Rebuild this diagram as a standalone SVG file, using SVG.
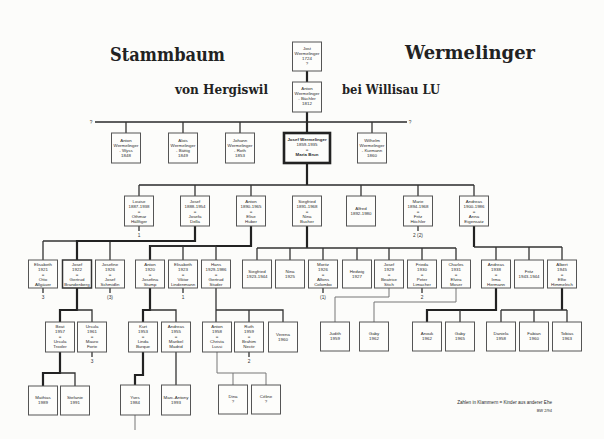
<svg xmlns="http://www.w3.org/2000/svg" width="604" height="439" viewBox="0 0 604 439">
<style>
.bg{fill:#fcfcfa}
.b{fill:#fdfdfb;stroke:#555;stroke-width:1}
.bk{fill:#fdfdfb;stroke:#222;stroke-width:2.6}
.bm{fill:#fdfdfb;stroke:#333;stroke-width:1.5}
.t{font-family:"Liberation Sans",Arial,sans-serif;font-size:4.4px;fill:#2a2a2a;text-anchor:middle}
.tb{font-weight:bold}
.n{font-family:"Liberation Sans",Arial,sans-serif;font-size:4.8px;fill:#333;text-anchor:middle}
.h{font-family:"DejaVu Serif",serif;font-weight:bold;fill:#222}
.c{fill:none;stroke:#333;stroke-width:1.3}
.m{fill:none;stroke:#2a2a2a;stroke-width:1.7}
.k{fill:none;stroke:#222;stroke-width:2.2}
.g{fill:none;stroke:#777;stroke-width:1}
</style>
<rect class="bg" x="0" y="0" width="604" height="439"/>
<g id="titles">
<text class="h" x="110" y="61" font-size="19" textLength="115" lengthAdjust="spacingAndGlyphs">Stammbaum</text>
<text class="h" x="405" y="59" font-size="19" textLength="130" lengthAdjust="spacingAndGlyphs">Wermelinger</text>
<text class="h" x="175" y="94" font-size="12" textLength="93" lengthAdjust="spacingAndGlyphs">von Hergiswil</text>
<text class="h" x="342" y="94" font-size="12" textLength="98" lengthAdjust="spacingAndGlyphs">bei Willisau LU</text>
</g>
<g id="connectors">
<path class="k" d="M307 71V82M307 112V133M307 163V185"/>
<path class="m" d="M95 122H407"/>
<path class="c" d="M126 122V133M183 122V133M240 122V133M372 122V133"/>
<path class="m" d="M139 185H474"/>
<path class="c" d="M139 185V196M195 185V196M251 185V196M361 185V196M418 185V196M474 185V196"/>
<path class="c" d="M139 226V231M418 226V231"/>
<path class="c" d="M43 241H77M43 241V260M110 241H77M110 241V260"/>
<path class="k" d="M195 226V241H77V260"/>
<path class="k" d="M251 226V246H150V260"/>
<path class="c" d="M150 246H216M183 246V260M216 246V260"/>
<path class="k" d="M307 226V248"/>
<path class="c" d="M257 248H456M257 248V260M290 248V260M323 248V260M357 248V260M389 248V260M422 248V260M456 248V260"/>
<path class="k" d="M474 226V247"/>
<path class="c" d="M474 247H562M496 247V260M529 247V260M562 247V260"/>
<path class="c" d="M43 288V293M110 288V293M183 288V293M323 288V293M422 288V293"/>
<path class="k" d="M77 288V310H60V322"/>
<path class="c" d="M77 310H92V322"/>
<path class="k" d="M150 288V310H143V322"/>
<path class="c" d="M150 310H176V322"/>
<path class="c" d="M216 288V310H283V322M216 310V322M249 310V322"/>
<path class="g" d="M389 288V297H335V322"/>
<path class="g" d="M456 288V302H374V322"/>
<path class="k" d="M496 288V310H427V322"/>
<path class="c" d="M460 310V322"/>
<path class="k" d="M562 288V310"/>
<path class="c" d="M501 310H567M501 310V322M534 310V322M567 310V322"/>
<path class="c" d="M92 352V357M249 352V357"/>
<path class="k" d="M60 352V373H43V386"/>
<path class="c" d="M60 373H75V386"/>
<path class="k" d="M143 352V375H135V385"/>
<path class="c" d="M176 352V385"/>
<path class="g" d="M217 352V373H266V385M233 373V385"/>
<path class="g" d="M135 415V430"/>
</g>
<g id="marks">
<text class="n" x="91" y="123.5">?</text>
<text class="n" x="410" y="123.5">?</text>
<text class="n" x="139" y="237">1</text>
<text class="n" x="418" y="237">2 (2)</text>
<text class="n" x="43" y="299">3</text>
<text class="n" x="110" y="299">(3)</text>
<text class="n" x="183" y="299">1</text>
<text class="n" x="323" y="299">(1)</text>
<text class="n" x="422" y="299">2</text>
<text class="n" x="92" y="363">3</text>
<text class="n" x="249" y="363">2</text>
<text class="t" x="552" y="403.5" style="text-anchor:end;font-size:4.6px">Zahlen in Klammern = Kinder aus anderer Ehe</text>
<text class="t" x="552" y="412" style="text-anchor:end;font-size:4px">BW 2/94</text>
</g>
<g id="n-jost"><rect class="b" x="292.5" y="42" width="29" height="29"/><text class="t"><tspan x="307" y="50">Jost</tspan><tspan x="307" y="55">Wermelinger</tspan><tspan x="307" y="60">1724</tspan><tspan x="307" y="65">?</tspan></text></g>
<g id="n-anton1812"><rect class="b" x="292.5" y="82" width="29" height="30"/><text class="t"><tspan x="307" y="90">Anton</tspan><tspan x="307" y="95">Wermelinger</tspan><tspan x="307" y="100">- Bächler</tspan><tspan x="307" y="105">1812</tspan></text></g>
<g id="n-anton1848"><rect class="b" x="111.5" y="133" width="29" height="30"/><text class="t"><tspan x="126" y="141.5">Anton</tspan><tspan x="126" y="146.5">Wermelinger</tspan><tspan x="126" y="151.5">- Wyss</tspan><tspan x="126" y="156.5">1848</tspan></text></g>
<g id="n-alois"><rect class="b" x="168.5" y="133" width="29" height="30"/><text class="t"><tspan x="183" y="141.5">Alois</tspan><tspan x="183" y="146.5">Wermelinger</tspan><tspan x="183" y="151.5">- Bättig</tspan><tspan x="183" y="156.5">1849</tspan></text></g>
<g id="n-johann"><rect class="b" x="225.5" y="133" width="29" height="30"/><text class="t"><tspan x="240" y="141.5">Johann</tspan><tspan x="240" y="146.5">Wermelinger</tspan><tspan x="240" y="151.5">- Roth</tspan><tspan x="240" y="156.5">1853</tspan></text></g>
<g id="n-josef1859"><rect class="bk" x="284" y="133" width="46" height="30"/><text class="t"><tspan x="307" y="141" class="tb">Josef Wermelinger</tspan><tspan x="307" y="146">1859-1935</tspan><tspan x="307" y="151">=</tspan><tspan x="307" y="156" class="tb">Maria Brun</tspan></text></g>
<g id="n-wilhelm"><rect class="b" x="357.5" y="133" width="29" height="30"/><text class="t"><tspan x="372" y="141.5">Wilhelm</tspan><tspan x="372" y="146.5">Wermelinger</tspan><tspan x="372" y="151.5">- Kurmann</tspan><tspan x="372" y="156.5">1860</tspan></text></g>
<g id="n-louise"><rect class="b" x="124.5" y="196" width="29" height="30"/><text class="t"><tspan x="139" y="202.5">Louise</tspan><tspan x="139" y="207.5">1887-1938</tspan><tspan x="139" y="212.5">=</tspan><tspan x="139" y="217.5">Othmar</tspan><tspan x="139" y="222.5">Hällfiger</tspan></text></g>
<g id="n-josef1888"><rect class="b" x="180.5" y="196" width="29" height="30"/><text class="t"><tspan x="195" y="202.5">Josef</tspan><tspan x="195" y="207.5">1888-1954</tspan><tspan x="195" y="212.5">=</tspan><tspan x="195" y="217.5">Josefa</tspan><tspan x="195" y="222.5">Della</tspan></text></g>
<g id="n-anton1890"><rect class="b" x="236.5" y="196" width="29" height="30"/><text class="t"><tspan x="251" y="202.5">Anton</tspan><tspan x="251" y="207.5">1890-1965</tspan><tspan x="251" y="212.5">=</tspan><tspan x="251" y="217.5">Elise</tspan><tspan x="251" y="222.5">Huber</tspan></text></g>
<g id="n-siegfried1891"><rect class="b" x="292.5" y="196" width="29" height="30"/><text class="t"><tspan x="307" y="202.5">Siegfried</tspan><tspan x="307" y="207.5">1891-1968</tspan><tspan x="307" y="212.5">=</tspan><tspan x="307" y="217.5">Nina</tspan><tspan x="307" y="222.5">Bucher</tspan></text></g>
<g id="n-alfred"><rect class="b" x="346.5" y="196" width="29" height="30"/><text class="t"><tspan x="361" y="209.5">Alfred</tspan><tspan x="361" y="214.5">1892-1980</tspan></text></g>
<g id="n-marie"><rect class="b" x="403.5" y="196" width="29" height="30"/><text class="t"><tspan x="418" y="202.5">Marie</tspan><tspan x="418" y="207.5">1894-1968</tspan><tspan x="418" y="212.5">=</tspan><tspan x="418" y="217.5">Fritz</tspan><tspan x="418" y="222.5">Höchler</tspan></text></g>
<g id="n-andreas1900"><rect class="b" x="459.5" y="196" width="29" height="30"/><text class="t"><tspan x="474" y="202.5">Andreas</tspan><tspan x="474" y="207.5">1900-1986</tspan><tspan x="474" y="212.5">=</tspan><tspan x="474" y="217.5">Anna</tspan><tspan x="474" y="222.5">Eigensatz</tspan></text></g>
<g id="n-elisabeth1921"><rect class="b" x="28.5" y="260" width="29" height="28"/><text class="t"><tspan x="43" y="265.5">Elisabeth</tspan><tspan x="43" y="270.5">1921</tspan><tspan x="43" y="275.5">=</tspan><tspan x="43" y="280.5">Otto</tspan><tspan x="43" y="285.5">Allgäuer</tspan></text></g>
<g id="n-josef1922"><rect class="bm" x="62.5" y="260" width="29" height="28"/><text class="t"><tspan x="77" y="265.5">Josef</tspan><tspan x="77" y="270.5">1922</tspan><tspan x="77" y="275.5">=</tspan><tspan x="77" y="280.5">Gertrud</tspan><tspan x="77" y="285.5">Brandenberg</tspan></text></g>
<g id="n-josefine"><rect class="b" x="95.5" y="260" width="29" height="28"/><text class="t"><tspan x="110" y="265.5">Josefine</tspan><tspan x="110" y="270.5">1926</tspan><tspan x="110" y="275.5">=</tspan><tspan x="110" y="280.5">Josef</tspan><tspan x="110" y="285.5">Schmidlin</tspan></text></g>
<g id="n-anton1920"><rect class="b" x="135.5" y="260" width="29" height="28"/><text class="t"><tspan x="150" y="265.5">Anton</tspan><tspan x="150" y="270.5">1920</tspan><tspan x="150" y="275.5">=</tspan><tspan x="150" y="280.5">Josefina</tspan><tspan x="150" y="285.5">Stump</tspan></text></g>
<g id="n-elisabeth1923"><rect class="b" x="168.5" y="260" width="29" height="28"/><text class="t"><tspan x="183" y="265.5">Elisabeth</tspan><tspan x="183" y="270.5">1923</tspan><tspan x="183" y="275.5">=</tspan><tspan x="183" y="280.5">Viktor</tspan><tspan x="183" y="285.5">Lindenmann</tspan></text></g>
<g id="n-hans"><rect class="b" x="201.5" y="260" width="29" height="28"/><text class="t"><tspan x="216" y="265.5">Hans</tspan><tspan x="216" y="270.5">1929-1986</tspan><tspan x="216" y="275.5">=</tspan><tspan x="216" y="280.5">Gertrud</tspan><tspan x="216" y="285.5">Studer</tspan></text></g>
<g id="n-siegfried1923"><rect class="b" x="242.5" y="260" width="29" height="28"/><text class="t"><tspan x="257" y="272.5">Siegfried</tspan><tspan x="257" y="277.5">1923-1944</tspan></text></g>
<g id="n-nina"><rect class="b" x="275.5" y="260" width="29" height="28"/><text class="t"><tspan x="290" y="272.5">Nina</tspan><tspan x="290" y="277.5">1925</tspan></text></g>
<g id="n-moritz"><rect class="b" x="308.5" y="260" width="29" height="28"/><text class="t"><tspan x="323" y="265.5">Moritz</tspan><tspan x="323" y="270.5">1926</tspan><tspan x="323" y="275.5">=</tspan><tspan x="323" y="280.5">Alfons</tspan><tspan x="323" y="285.5">Colombo</tspan></text></g>
<g id="n-hedwig"><rect class="b" x="342.5" y="260" width="29" height="28"/><text class="t"><tspan x="357" y="272.5">Hedwig</tspan><tspan x="357" y="277.5">1927</tspan></text></g>
<g id="n-josef1929"><rect class="b" x="374.5" y="260" width="29" height="28"/><text class="t"><tspan x="389" y="265.5">Josef</tspan><tspan x="389" y="270.5">1929</tspan><tspan x="389" y="275.5">=</tspan><tspan x="389" y="280.5">Beatrice</tspan><tspan x="389" y="285.5">Stich</tspan></text></g>
<g id="n-frieda"><rect class="b" x="407.5" y="260" width="29" height="28"/><text class="t"><tspan x="422" y="265.5">Frieda</tspan><tspan x="422" y="270.5">1930</tspan><tspan x="422" y="275.5">=</tspan><tspan x="422" y="280.5">Peter</tspan><tspan x="422" y="285.5">Limacher</tspan></text></g>
<g id="n-charles"><rect class="b" x="441.5" y="260" width="29" height="28"/><text class="t"><tspan x="456" y="265.5">Charles</tspan><tspan x="456" y="270.5">1931</tspan><tspan x="456" y="275.5">=</tspan><tspan x="456" y="280.5">Elvira</tspan><tspan x="456" y="285.5">Moser</tspan></text></g>
<g id="n-andreas1938"><rect class="b" x="481.5" y="260" width="29" height="28"/><text class="t"><tspan x="496" y="265.5">Andreas</tspan><tspan x="496" y="270.5">1938</tspan><tspan x="496" y="275.5">=</tspan><tspan x="496" y="280.5">Irma</tspan><tspan x="496" y="285.5">Hermann</tspan></text></g>
<g id="n-fritz"><rect class="b" x="514.5" y="260" width="29" height="28"/><text class="t"><tspan x="529" y="272.5">Fritz</tspan><tspan x="529" y="277.5">1943-1944</tspan></text></g>
<g id="n-albert"><rect class="b" x="547.5" y="260" width="29" height="28"/><text class="t"><tspan x="562" y="265.5">Albert</tspan><tspan x="562" y="270.5">1945</tspan><tspan x="562" y="275.5">=</tspan><tspan x="562" y="280.5">Elfie</tspan><tspan x="562" y="285.5">Himmelrich</tspan></text></g>
<g id="n-beat"><rect class="b" x="45.5" y="322" width="29" height="30"/><text class="t"><tspan x="60" y="328">Beat</tspan><tspan x="60" y="333">1957</tspan><tspan x="60" y="338">=</tspan><tspan x="60" y="343">Ursula</tspan><tspan x="60" y="348">Troxler</tspan></text></g>
<g id="n-ursula"><rect class="b" x="77.5" y="322" width="29" height="30"/><text class="t"><tspan x="92" y="328">Ursula</tspan><tspan x="92" y="333">1961</tspan><tspan x="92" y="338">=</tspan><tspan x="92" y="343">Mauro</tspan><tspan x="92" y="348">Forte</tspan></text></g>
<g id="n-kurt"><rect class="b" x="128.5" y="322" width="29" height="30"/><text class="t"><tspan x="143" y="328">Kurt</tspan><tspan x="143" y="333">1953</tspan><tspan x="143" y="338">=</tspan><tspan x="143" y="343">Linda</tspan><tspan x="143" y="348">Burque</tspan></text></g>
<g id="n-andreas1955"><rect class="b" x="161.5" y="322" width="29" height="30"/><text class="t"><tspan x="176" y="328">Andreas</tspan><tspan x="176" y="333">1955</tspan><tspan x="176" y="338">=</tspan><tspan x="176" y="343">Maribel</tspan><tspan x="176" y="348">Madrid</tspan></text></g>
<g id="n-anton1958"><rect class="b" x="202.5" y="322" width="29" height="30"/><text class="t"><tspan x="217" y="328">Anton</tspan><tspan x="217" y="333">1958</tspan><tspan x="217" y="338">=</tspan><tspan x="217" y="343">Christa</tspan><tspan x="217" y="348">Lussi</tspan></text></g>
<g id="n-ruth"><rect class="b" x="234.5" y="322" width="29" height="30"/><text class="t"><tspan x="249" y="328">Ruth</tspan><tspan x="249" y="333">1959</tspan><tspan x="249" y="338">=</tspan><tspan x="249" y="343">Brahim</tspan><tspan x="249" y="348">Nectir</tspan></text></g>
<g id="n-verena"><rect class="b" x="268.5" y="322" width="29" height="30"/><text class="t"><tspan x="283" y="335.5">Verena</tspan><tspan x="283" y="340.5">1960</tspan></text></g>
<g id="n-judith"><rect class="b" x="320.5" y="322" width="29" height="29"/><text class="t"><tspan x="335" y="335">Judith</tspan><tspan x="335" y="340">1959</tspan></text></g>
<g id="n-gaby1962"><rect class="b" x="359.5" y="322" width="29" height="29"/><text class="t"><tspan x="374" y="335">Gaby</tspan><tspan x="374" y="340">1962</tspan></text></g>
<g id="n-anouk"><rect class="b" x="412.5" y="322" width="29" height="29"/><text class="t"><tspan x="427" y="335">Anouk</tspan><tspan x="427" y="340">1962</tspan></text></g>
<g id="n-gaby1965"><rect class="b" x="445.5" y="322" width="29" height="29"/><text class="t"><tspan x="460" y="335">Gaby</tspan><tspan x="460" y="340">1965</tspan></text></g>
<g id="n-daniela"><rect class="b" x="486.5" y="322" width="29" height="29"/><text class="t"><tspan x="501" y="335">Daniela</tspan><tspan x="501" y="340">1958</tspan></text></g>
<g id="n-fabian"><rect class="b" x="519.5" y="322" width="29" height="29"/><text class="t"><tspan x="534" y="335">Fabian</tspan><tspan x="534" y="340">1960</tspan></text></g>
<g id="n-tobias"><rect class="b" x="552.5" y="322" width="29" height="29"/><text class="t"><tspan x="567" y="335">Tobias</tspan><tspan x="567" y="340">1963</tspan></text></g>
<g id="n-mathias"><rect class="b" x="28.5" y="386" width="29" height="29"/><text class="t"><tspan x="43" y="398.5">Mathias</tspan><tspan x="43" y="403.5">1989</tspan></text></g>
<g id="n-stefanie"><rect class="b" x="60.5" y="386" width="29" height="29"/><text class="t"><tspan x="75" y="398.5">Stefanie</tspan><tspan x="75" y="403.5">1991</tspan></text></g>
<g id="n-yves"><rect class="b" x="120.5" y="385" width="29" height="30"/><text class="t"><tspan x="135" y="398.5">Yves</tspan><tspan x="135" y="403.5">1984</tspan></text></g>
<g id="n-marc"><rect class="b" x="161.5" y="385" width="29" height="30"/><text class="t"><tspan x="176" y="398.5">Marc-Antony</tspan><tspan x="176" y="403.5">1993</tspan></text></g>
<g id="n-dina"><rect class="b" x="218.5" y="385" width="29" height="29"/><text class="t"><tspan x="233" y="398">Dina</tspan><tspan x="233" y="403">?</tspan></text></g>
<g id="n-celine"><rect class="b" x="251.5" y="385" width="29" height="29"/><text class="t"><tspan x="266" y="398">Céline</tspan><tspan x="266" y="403">?</tspan></text></g>
</svg>
